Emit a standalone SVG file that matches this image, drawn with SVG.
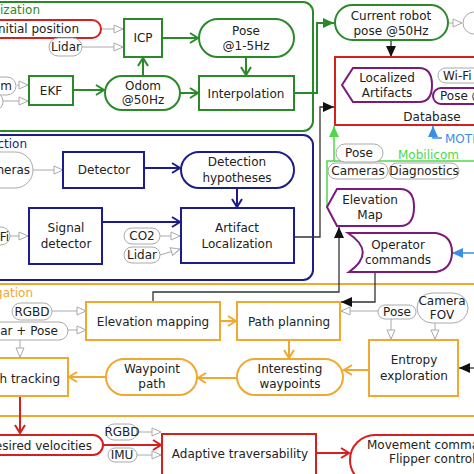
<svg xmlns="http://www.w3.org/2000/svg" width="474" height="474" viewBox="0 0 474 474">
<style>
text{font-family:"DejaVu Sans","Liberation Sans",sans-serif;font-size:12px;fill:#222;text-anchor:middle}
.l{text-anchor:start}.e{text-anchor:end}
.pill{fill:#fff;stroke:#aaa;stroke-width:1}
.g{fill:#fff;stroke:#2a8a2a;stroke-width:2}
.b{fill:#fff;stroke:#1c1c8c;stroke-width:2}
.o{fill:#fff;stroke:#f0a830;stroke-width:2}
.r{fill:#fff;stroke:#d42020;stroke-width:2}
.p{fill:#fff;stroke:#7a1a7a;stroke-width:2}
.cg{fill:none;stroke:#2a8a2a;stroke-width:2}
.cb{fill:none;stroke:#1c1c8c;stroke-width:2}
.co{fill:none;stroke:#f0a830;stroke-width:2}
.cr{fill:none;stroke:#d42020;stroke-width:2}
.cgr{fill:none;stroke:#aaa;stroke-width:1}
.ck{fill:none;stroke:#333;stroke-width:1.3}
</style>
<defs>
<marker id="h" markerUnits="userSpaceOnUse" markerWidth="12" markerHeight="12" refX="10" refY="5" orient="auto"><path d="M1,1 L10,5 L1,9 Z" fill="#fff" stroke="#aaa"/></marker>
<marker id="mg" markerUnits="userSpaceOnUse" markerWidth="12" markerHeight="12" refX="10" refY="6" orient="auto"><path d="M2,1 L10,6 L2,11" fill="none" stroke="#2a8a2a" stroke-width="2"/></marker>
<marker id="mb" markerUnits="userSpaceOnUse" markerWidth="12" markerHeight="12" refX="10" refY="6" orient="auto"><path d="M2,1 L10,6 L2,11" fill="none" stroke="#1c1c8c" stroke-width="2"/></marker>
<marker id="mo" markerUnits="userSpaceOnUse" markerWidth="12" markerHeight="12" refX="10" refY="6" orient="auto"><path d="M2,1 L10,6 L2,11" fill="none" stroke="#f0a830" stroke-width="2"/></marker>
<marker id="mr" markerUnits="userSpaceOnUse" markerWidth="12" markerHeight="12" refX="10" refY="6" orient="auto"><path d="M2,1 L10,6 L2,11" fill="none" stroke="#d42020" stroke-width="2"/></marker>
<marker id="fk" markerUnits="userSpaceOnUse" markerWidth="12" markerHeight="12" refX="11" refY="6" orient="auto"><path d="M0,1 L11,6 L0,11 Z" fill="#111"/></marker>
<marker id="fg" markerUnits="userSpaceOnUse" markerWidth="12" markerHeight="12" refX="11" refY="6" orient="auto"><path d="M0,1 L11,6 L0,11 Z" fill="#2a8a2a"/></marker>
<marker id="fl" markerUnits="userSpaceOnUse" markerWidth="12" markerHeight="12" refX="11" refY="6" orient="auto"><path d="M0,1 L11,6 L0,11 Z" fill="#4cd94c"/></marker>
<marker id="fb" markerUnits="userSpaceOnUse" markerWidth="12" markerHeight="12" refX="11" refY="6" orient="auto"><path d="M0,1 L11,6 L0,11 Z" fill="#3a8ee6"/></marker>
</defs>
<rect width="474" height="474" fill="#fff"/>

<g id="groups">
<rect x="-10" y="2" width="323" height="129" rx="10" fill="none" stroke="#2a8a2a" stroke-width="2"/>
<text class="e" x="40" y="14" style="fill:#2a8a2a">ization</text>
<rect x="-10" y="135" width="323" height="145" rx="10" fill="none" stroke="#1c1c8c" stroke-width="2"/>
<text class="e" x="27" y="148" style="fill:#1c1c8c">ction</text>
<rect x="-10" y="284" width="500" height="132" rx="10" fill="none" stroke="#f0a830" stroke-width="2"/>
<text class="e" x="33" y="297" style="fill:#f0a830">gation</text>
</g>

<g id="connectors">
<path class="cgr" d="M101,29 H123" marker-end="url(#h)"/>
<path class="cgr" d="M82,47 H123" marker-end="url(#h)"/>
<path class="cgr" d="M17,85 H28" marker-end="url(#h)"/>
<path class="cgr" d="M3,101 H28" marker-end="url(#h)"/>
<path class="cg" d="M73,90 H104" marker-end="url(#mg)"/>
<path class="cg" d="M143,76 V58" marker-end="url(#mg)"/>
<path class="cg" d="M162,38 H198" marker-end="url(#mg)"/>
<path class="cg" d="M246,57 V75" marker-end="url(#mg)"/>
<path class="cg" d="M180,93 H198" marker-end="url(#mg)"/>
<path class="cg" d="M294,93 H317 V23 H334" marker-end="url(#fg)"/>
<path class="cgr" d="M448,23 H462" marker-end="url(#h)"/>
<path class="ck" d="M391,40 V57" marker-end="url(#fk)"/>
<path class="ck" d="M294,237 H320 V107 H334" marker-end="url(#fk)"/>
<path d="M474,161 H334" fill="none" stroke="#4cd94c" stroke-width="1.5"/>
<path d="M327,207 V161 H334 V126" fill="none" stroke="#4cd94c" stroke-width="1.5" marker-end="url(#fl)"/>
<path d="M442,138 H433 V126" fill="none" stroke="#3a8ee6" stroke-width="1.5" marker-end="url(#fb)"/>
<path d="M474,253 H452" fill="none" stroke="#3a8ee6" stroke-width="1.5" marker-end="url(#fb)"/>
<path class="cgr" d="M33,170 H63" marker-end="url(#h)"/>
<path class="cb" d="M144,168 H180" marker-end="url(#mb)"/>
<path class="cb" d="M237,188 V207" marker-end="url(#mb)"/>
<path class="cb" d="M102,222 H180" marker-end="url(#mb)"/>
<path class="cgr" d="M10,236 H28" marker-end="url(#h)"/>
<path class="cgr" d="M160,236 H180" marker-end="url(#h)"/>
<path class="cgr" d="M160,255 L180,249" marker-end="url(#h)"/>
<path class="ck" d="M153,302 V292 H339 V227" marker-end="url(#fk)"/>
<path class="ck" d="M375,272 V302 H341" marker-end="url(#fk)"/>
<path class="cgr" d="M378,311 H341" marker-end="url(#h)"/>
<path class="cgr" d="M52,311 H86" marker-end="url(#h)"/>
<path class="cgr" d="M68,330 H86" marker-end="url(#h)"/>
<path class="cgr" d="M20,340 V357" marker-end="url(#h)"/>
<path class="cgr" d="M391,319 V339" marker-end="url(#h)"/>
<path class="cgr" d="M435,323 V339" marker-end="url(#h)"/>
<path class="co" d="M220,321 H236" marker-end="url(#mo)"/>
<path class="co" d="M289,340 V358" marker-end="url(#mo)"/>
<path class="co" d="M369,370 H344" marker-end="url(#mo)"/>
<path class="co" d="M237,378 H198" marker-end="url(#mo)"/>
<path class="co" d="M106,377 H69" marker-end="url(#mo)"/>
<path class="ck" d="M474,368 H459" marker-end="url(#fk)"/>
<path class="cr" d="M20,397 V433" marker-end="url(#mr)"/>
<path class="cr" d="M103,445 H161" marker-end="url(#mr)"/>
<path class="cgr" d="M137,432 H161" marker-end="url(#h)"/>
<path class="cgr" d="M137,455 H161" marker-end="url(#h)"/>
<path class="cr" d="M316,453 H349" marker-end="url(#mr)"/>
</g>

<g id="initial-position"><rect class="r" x="-30" y="20" width="131" height="18" rx="9"/><text class="e" x="79" y="33">nitial position</text></g>
<g id="lidar1"><rect class="pill" x="49" y="38" width="33" height="18" rx="9"/><text x="66" y="51">Lidar</text></g>
<g id="odom-in"><rect class="pill" x="-20" y="77" width="36" height="18" rx="9"/><text class="e" x="12" y="90">m</text></g>
<g id="in2"><rect class="pill" x="-30" y="93" width="33" height="17" rx="8"/></g>
<g id="icp"><rect class="g" x="124" y="19" width="38" height="38"/><text x="143" y="42">ICP</text></g>
<g id="pose15"><rect class="g" x="199" y="19" width="95" height="38" rx="19"/><text x="246" y="35">Pose</text><text x="246" y="50">@1-5Hz</text></g>
<g id="ekf"><rect class="g" x="29" y="76" width="44" height="29"/><text x="51" y="95">EKF</text></g>
<g id="odom"><rect class="g" x="105" y="76" width="75" height="34" rx="17"/><text x="143" y="90">Odom</text><text x="143" y="104">@50Hz</text></g>
<g id="interpolation"><rect class="g" x="199" y="76" width="95" height="34"/><text x="246" y="98">Interpolation</text></g>
<g id="current-pose"><rect class="g" x="335" y="5" width="113" height="35" rx="17.5"/><text x="391" y="20">Current robot</text><text x="391" y="35">pose @50Hz</text></g>
<g id="right-pill"><rect class="pill" x="463" y="12" width="30" height="22" rx="11"/></g>

<g id="database"><rect class="r" x="335" y="57" width="150" height="68"/><text x="432" y="121">Database</text></g>
<g id="localized-artifacts"><path class="p" d="M342,85 L353,68 H419 Q432,68 432,85 Q432,102 419,102 H353 Z"/><text x="387" y="82">Localized</text><text x="387" y="97">Artifacts</text></g>
<g id="wifi-db"><rect class="pill" x="438" y="68" width="50" height="15" rx="7.5"/><text class="l" x="443" y="80">Wi-Fi</text></g>
<g id="pose-db"><rect class="p" x="433" y="88" width="60" height="16" rx="8"/><text class="l" x="440" y="100">Pose @</text></g>

<g id="moti"><text class="l" x="445" y="143" style="fill:#3a8ee6">MOTI</text></g>
<g id="mobilicom"><text class="l" x="398" y="159" style="fill:#4cd94c">Mobilicom</text></g>
<g id="pose-mob"><rect class="pill" x="336" y="144" width="47" height="18" rx="9"/><text x="359" y="157">Pose</text></g>
<g id="cameras-mob"><rect class="pill" x="328" y="163" width="60" height="16" rx="8"/><text x="358" y="175">Cameras</text></g>
<g id="diagnostics"><rect class="pill" x="389" y="163" width="70" height="16" rx="8"/><text x="424" y="175">Diagnostics</text></g>
<g id="elevation-map"><path class="p" d="M327,207 L337,189 H400 Q414,189 414,207 Q414,226 400,226 H337 Z"/><text x="370" y="204">Elevation</text><text x="370" y="219">Map</text></g>
<g id="operator-commands"><path class="p" d="M348,233 H436 Q452,236 452,252 Q452,269 436,272 H349 Q377,252 348,233 Z"/><text x="398" y="249">Operator</text><text x="398" y="264">commands</text></g>

<g id="cameras"><rect class="pill" x="-30" y="152" width="63" height="36" rx="18"/><text class="e" x="30" y="174">meras</text></g>
<g id="detector"><rect class="b" x="63" y="152" width="81" height="36"/><text x="104" y="174">Detector</text></g>
<g id="detection-hypotheses"><rect class="b" x="181" y="152" width="113" height="36" rx="18"/><text x="237" y="166">Detection</text><text x="237" y="182">hypotheses</text></g>
<g id="wifi-in"><rect class="pill" x="-30" y="227" width="40" height="18" rx="9"/><text class="e" x="9" y="241">Fi</text></g>
<g id="signal-detector"><rect class="b" x="29" y="208" width="73" height="56"/><text x="66" y="232">Signal</text><text x="66" y="248">detector</text></g>
<g id="co2"><rect class="pill" x="124" y="228" width="36" height="16" rx="8"/><text x="142" y="240">CO2</text></g>
<g id="lidar2"><rect class="pill" x="124" y="247" width="36" height="16" rx="8"/><text x="142" y="259">Lidar</text></g>
<g id="artifact-localization"><rect class="b" x="181" y="208" width="113" height="55"/><text x="237" y="232">Artifact</text><text x="237" y="248">Localization</text></g>

<g id="rgbd1"><rect class="pill" x="12" y="303" width="40" height="17" rx="8.5"/><text x="32" y="316">RGBD</text></g>
<g id="lidar-pose"><rect class="pill" x="-30" y="322" width="98" height="18" rx="9"/><text class="e" x="58" y="335">ar + Pose</text></g>
<g id="elevation-mapping"><rect class="o" x="86" y="302" width="134" height="38"/><text x="153" y="326">Elevation mapping</text></g>
<g id="path-planning"><rect class="o" x="237" y="302" width="103" height="38"/><text x="289" y="326">Path planning</text></g>
<g id="pose-nav"><rect class="pill" x="378" y="305" width="38" height="14" rx="7"/><text x="397" y="316">Pose</text></g>
<g id="camera-fov"><rect class="pill" x="417" y="293" width="51" height="30" rx="15"/><text x="442" y="305">Camera</text><text x="442" y="319">FOV</text></g>
<g id="path-tracking"><rect class="o" x="-30" y="358" width="98" height="38"/><text class="e" x="60" y="383">h tracking</text></g>
<g id="waypoint-path"><rect class="o" x="106" y="359" width="91" height="36" rx="18"/><text x="152" y="373">Waypoint</text><text x="152" y="388">path</text></g>
<g id="interesting-waypoints"><rect class="o" x="237" y="359" width="106" height="36" rx="18"/><text x="290" y="373">Interesting</text><text x="290" y="388">waypoints</text></g>
<g id="entropy-exploration"><rect class="o" x="369" y="340" width="89" height="56"/><text x="414" y="364">Entropy</text><text x="414" y="380">exploration</text></g>

<g id="desired-velocities"><rect class="r" x="-30" y="435" width="133" height="20" rx="10"/><text class="e" x="92" y="450">esired velocities</text></g>
<g id="rgbd2"><rect class="pill" x="106" y="424" width="31" height="16" rx="8"/><text x="122" y="436">RGBD</text></g>
<g id="imu"><rect class="pill" x="108" y="448" width="29" height="14" rx="7"/><text x="122" y="459">IMU</text></g>
<g id="adaptive-traversability"><rect class="r" x="162" y="434" width="154" height="50"/><text x="240" y="458">Adaptive traversability</text></g>
<g id="movement-commands"><rect class="r" x="350" y="435" width="160" height="50" rx="25"/><text class="l" x="367" y="449">Movement comma</text><text class="l" x="389" y="463">Flipper control</text></g>
</svg>
